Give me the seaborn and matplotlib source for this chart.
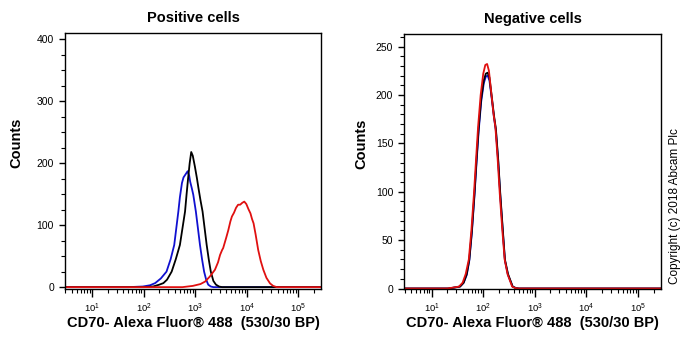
import numpy as np
import pandas as pd
import matplotlib
matplotlib.use("Agg")
import matplotlib.pyplot as plt
import seaborn as sns
from matplotlib.ticker import LogLocator, MultipleLocator, LogFormatterMathtext, NullFormatter

# ---- data: log10 fluorescence position vs counts ----
pos_black_x = [0.4, 2.00, 2.18, 2.30, 2.38, 2.45, 2.54, 2.62, 2.70, 2.75, 2.80, 2.83, 2.86, 2.89, 2.92,
               2.95, 2.99, 3.03, 3.06, 3.10, 3.14, 3.18, 3.22, 3.26, 3.30, 3.35, 3.40, 3.46, 3.52, 5.5]
pos_black_y = [0, 0, 1, 4, 6.5, 12, 25, 45, 68, 95, 122, 150, 176, 200, 218,
               212, 195, 176, 160, 140, 122, 95, 68, 45, 25, 10, 4, 1, 0, 0]

pos_blue_x = [0.4, 1.70, 1.98, 2.12, 2.22, 2.33, 2.44, 2.52, 2.59, 2.63, 2.67, 2.70, 2.74, 2.77, 2.81,
              2.85, 2.88, 2.90, 2.93, 2.96, 3.01, 3.05, 3.09, 3.13, 3.17, 3.21, 3.25, 3.30, 3.35, 5.5]
pos_blue_y = [0, 0, 1, 3, 6.5, 14, 25, 45, 68, 95, 122, 145, 168, 177, 182,
              187, 180, 170, 160, 149, 122, 95, 68, 45, 25, 12, 4, 1, 0, 0]

pos_red_x = [0.4, 2.75, 2.95, 3.10, 3.19, 3.28, 3.38, 3.44, 3.48, 3.52, 3.54, 3.60, 3.64, 3.68, 3.71,
             3.75, 3.79, 3.83, 3.87, 3.91, 3.95, 3.99, 4.03, 4.07, 4.10, 4.13, 4.17, 4.22, 4.27, 4.32,
             4.38, 4.45, 4.51, 4.58, 5.5]
pos_red_y = [0, 0, 2, 5, 9, 17, 28, 40, 52, 60, 63, 80, 92, 106, 114,
             120, 128, 133, 133, 136, 138, 134, 126, 119, 110, 103, 85, 60, 42, 28,
             15, 6, 2, 0, 0]

neg_red_x = [0.4, 1.30, 1.42, 1.53, 1.60, 1.66, 1.72, 1.77, 1.82, 1.86, 1.90, 1.95, 2.00, 2.04, 2.075,
             2.11, 2.16, 2.20, 2.235, 2.28, 2.32, 2.37, 2.415, 2.47, 2.56, 2.62, 2.685, 5.5]
neg_red_y = [0, 0, 1, 2, 6, 15, 30, 60, 98, 133, 167, 200, 222, 231, 232,
             225, 200, 180, 167, 133, 98, 60, 30, 15, 2, 0.5, 0, 0]

neg_black_x = [0.4, 1.32, 1.44, 1.55, 1.62, 1.68, 1.73, 1.78, 1.83, 1.87, 1.91, 1.96, 2.01, 2.05, 2.085,
               2.12, 2.17, 2.21, 2.245, 2.29, 2.33, 2.38, 2.42, 2.48, 2.57, 2.63, 2.69, 5.5]
neg_black_y = [0, 0, 1, 2, 6, 15, 30, 60, 98, 133, 165, 196, 215, 222, 223,
               218, 196, 178, 165, 133, 98, 60, 30, 15, 2, 0.5, 0, 0]

neg_blue_x = neg_black_x
neg_blue_y = [0, 0, 1, 2, 6, 14, 29, 58, 96, 130, 162, 193, 212, 219, 220,
              215, 194, 176, 163, 131, 96, 58, 29, 14, 2, 0.5, 0, 0]

xlabel = "CD70- Alexa Fluor\u00ae 488  (530/30 BP)"

sns.set_style("ticks")
plt.rcParams["font.family"] = ["Liberation Sans", "DejaVu Sans"]
for k in ["text.color", "axes.labelcolor", "xtick.color", "ytick.color", "axes.edgecolor"]:
    plt.rcParams[k] = "black"

fig = plt.figure(figsize=(6.91, 3.5), dpi=100)
ax1 = fig.add_axes([0.0941, 0.1743, 0.3705, 0.7314])
ax2 = fig.add_axes([0.5851, 0.1743, 0.3711, 0.7286])


def draw(ax, curves, title, ylim, minor, ylab_x):
    for xs, ys, c in curves:
        d = pd.DataFrame({"x": np.power(10.0, xs), "y": ys})
        sns.lineplot(data=d, x="x", y="y", color=c, lw=1.3, ax=ax, sort=False)
    ax.set_xscale("log")
    ax.set_xlim(10 ** 0.47, 10 ** 5.44)
    ax.set_ylim(*ylim)
    ax.xaxis.set_major_locator(LogLocator(base=10, numticks=10))
    ax.xaxis.set_minor_locator(LogLocator(base=10, subs=np.arange(2, 10), numticks=20))
    ax.xaxis.set_major_formatter(LogFormatterMathtext())
    ax.xaxis.set_minor_formatter(NullFormatter())
    ax.yaxis.set_minor_locator(MultipleLocator(minor))
    ax.tick_params(axis="x", which="major", length=6, width=1, pad=3, labelsize=6.8)
    ax.tick_params(axis="x", which="minor", length=3, width=0.8)
    ax.tick_params(axis="y", which="major", length=4, width=1, pad=4, labelsize=7.5)
    ax.tick_params(axis="y", which="minor", length=3, width=0.8)
    for s in ax.spines.values():
        s.set_visible(True)
        s.set_linewidth(1)
    ax.set_title(title, fontsize=10.5, fontweight="bold", pad=8)
    ax.set_xlabel(xlabel, fontsize=10.5, fontweight="bold", labelpad=1)
    ax.set_ylabel("Counts", fontsize=10.5, fontweight="bold")
    ax.yaxis.set_label_coords(ylab_x, 0.57)


draw(ax1, [(pos_blue_x, pos_blue_y, "#1010d0"), (pos_black_x, pos_black_y, "black"),
           (pos_red_x, pos_red_y, "#e01010")], "Positive cells", (-3, 410), 25, -0.164)
ax1.set_yticks([0, 100, 200, 300, 400])
draw(ax2, [(neg_blue_x, neg_blue_y, "#1010d0"), (neg_black_x, neg_black_y, "black"),
           (neg_red_x, neg_red_y, "#e01010")], "Negative cells", (-0.5, 263), 10, -0.14)
ax2.set_yticks([0, 50, 100, 150, 200, 250])

fig.text(0.977, 0.411, "Copyright (c) 2018 Abcam Plc", rotation=90, fontsize=8.5,
         ha="center", va="center")

fig.savefig("out.png", dpi=100)
